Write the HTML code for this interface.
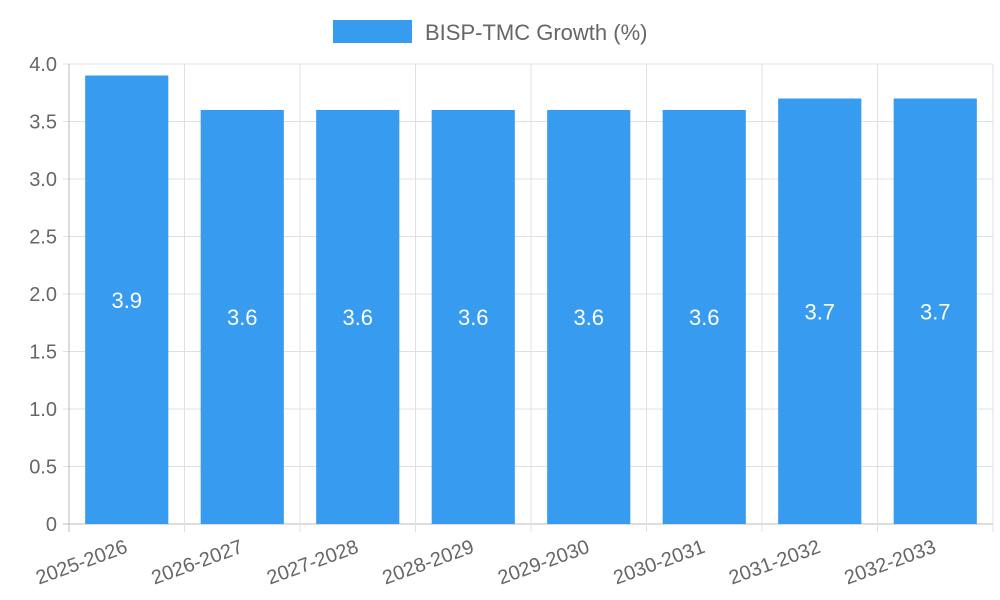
<!DOCTYPE html>
<html><head><meta charset="utf-8"><style>
body{margin:0;background:#fff;}
svg{display:block;font-family:"Liberation Sans",sans-serif;}
</style></head><body>
<svg id="chart" width="1000" height="600">
<g id="grid"></g><g id="bars"></g><g id="labels"></g>
<g>
<rect x="333" y="20" width="79" height="23" fill="#379bf0"></rect>
<text x="425" y="40" font-size="22" fill="#666">BISP-TMC Growth (%)</text>
</g>
</svg>
<script>
const categories=["2025-2026","2026-2027","2027-2028","2028-2029","2029-2030","2030-2031","2031-2032","2032-2033"];
const values=[3.9,3.6,3.6,3.6,3.6,3.6,3.7,3.7];
const yTicks=[0,0.5,1,1.5,2,2.5,3,3.5,4];
const yTickLabels=["0","0.5","1.0","1.5","2.0","2.5","3.0","3.5","4.0"];
const X0=69,X1=993,Y0=524,Y1=64,YMAX=4;
const NS="http://www.w3.org/2000/svg";
const band=(X1-X0)/categories.length;
const xC=i=>X0+band*(i+0.5);
const y=v=>Y0-(v/YMAX)*(Y0-Y1);
function mk(t,a,p){const e=document.createElementNS(NS,t);for(const k in a)e.setAttribute(k,a[k]);p.appendChild(e);return e;}
const grid=document.getElementById('grid'),bars=document.getElementById('bars'),labels=document.getElementById('labels');
yTicks.forEach((t,i)=>{
 const l=mk('line',{x1:X0-6,x2:X1,y1:y(t),y2:y(t),stroke:i==0?'#bbb':'#e0e0e0','stroke-width':1},grid);
 
 
 const tx=mk('text',{x:X0-12,y:y(t)+7,'text-anchor':'end','font-size':20,fill:'#666'},labels);
 tx.textContent=yTickLabels[i];
 
 
});
for(let i=0;i<=categories.length;i++){
 const gx=X0+band*i;
 const l=mk('line',{x1:gx,x2:gx,y1:Y1,y2:Y0+8,stroke:i==0?'#bbb':'#e0e0e0','stroke-width':1},grid);
 
 
}
categories.forEach((c,i)=>{
 const w=band*0.72;
 const r=mk('rect',{x:xC(i)-w/2,y:y(values[i]),width:w,height:Y0-y(values[i]),fill:'#379bf0'},bars);
 
 
 const v=mk('text',{x:xC(i),y:(y(values[i])+Y0)/2+8,'text-anchor':'middle','font-size':22,fill:'#fff'},labels);
 v.textContent=values[i];
 
 
 const xl=mk('text',{x:0,y:0,'text-anchor':'end','font-size':20,fill:'#666',transform:`translate(${xC(i)+2},${Y0+28}) rotate(-20)`},labels);
 xl.textContent=c;
 
 
});
</script>
</body></html>
